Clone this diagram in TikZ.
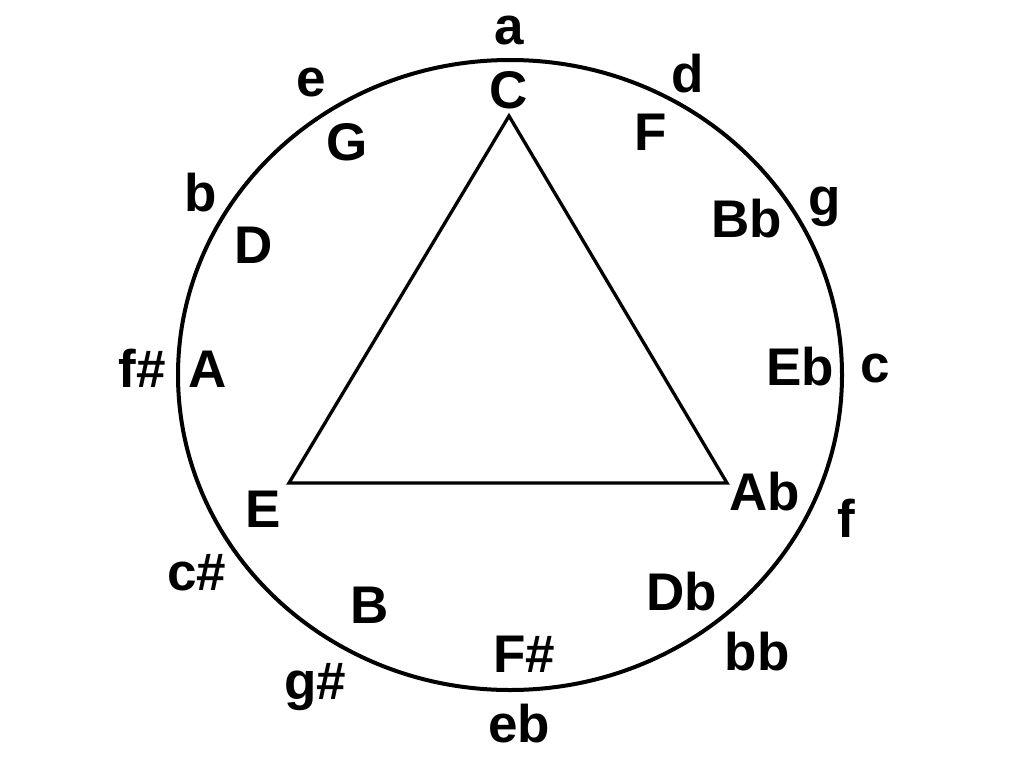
\documentclass[tikz,border=0pt]{standalone}
\usepackage{fontspec}
\setmainfont{Liberation Sans}
\begin{document}
\begin{tikzpicture}[x=1pt,y=-1pt,
  lab/.style={font=\fontsize{53}{53}\selectfont\bfseries, anchor=base, inner sep=0pt},
  ring/.style={line width=4pt},
  tri/.style={line width=3.3pt}]
\useasboundingbox (0,0) rectangle (1024,768);
\fill[white] (0,0) rectangle (1024,768);
\draw[ring] (510,375) ellipse [x radius=332, y radius=315];
\coordinate (tC) at (509,116);
\coordinate (tE) at (289,483);
\coordinate (tAb) at (727,483);
\draw[tri] (tC) -- (tE) -- (tAb) -- cycle;
% outer (minor) labels
\node[lab] (a)  at (509,45)  {a};
\node[lab] (d)  at (688,92)  {d};
\node[lab] (g)  at (825,215) {g};
\node[lab] (c)  at (875,382) {c};
\node[lab] (f)  at (846,537) {f};
\node[lab] (bb) at (757,670) {bb};
\node[lab] (eb) at (519,742) {eb};
\node[lab] (gs) at (315,699) {g\#};
\node[lab] (cs) at (197,590) {c\#};
\node[lab] (fs) at (142,387) {f\#};
\node[lab] (b)  at (201,211) {b};
\node[lab] (e)  at (311,96)  {e};
% inner (major) labels
\node[lab] (C)  at (509,108) {C};
\node[lab] (F)  at (651,150) {F};
\node[lab] (Bb) at (747,237) {Bb};
\node[lab] (Eb) at (800,385) {Eb};
\node[lab] (Ab) at (765,510) {Ab};
\node[lab] (Db) at (682,610) {Db};
\node[lab] (Fs) at (524,672) {F\#};
\node[lab] (B)  at (370,623) {B};
\node[lab] (E)  at (263,527) {E};
\node[lab] (A)  at (208,387) {A};
\node[lab] (D)  at (254,263) {D};
\node[lab] (G)  at (347,160) {G};
\end{tikzpicture}
\end{document}
